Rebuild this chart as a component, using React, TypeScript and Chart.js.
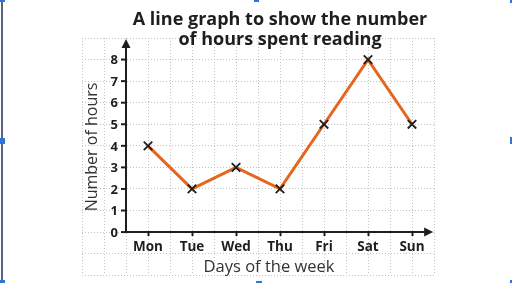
import React, { useEffect, useRef } from "react";
import { Chart, registerables } from "chart.js";

Chart.register(...registerables);

const DAYS = ["Mon", "Tue", "Wed", "Thu", "Fri", "Sat", "Sun"];
const HOURS = [4, 2, 3, 2, 5, 8, 5];
const Y_TICKS = [0, 1, 2, 3, 4, 5, 6, 7, 8];
const TITLE_LINES = ["A line graph to show the number", "of hours spent reading"];
const X_TITLE = "Days of the week";
const Y_TITLE = "Number of hours";

const FONT = "'Open Sans', 'DejaVu Sans', sans-serif";
const INK = "#1e1e1e";

const overlay = {
  id: "overlay",
  afterDraw(chart: any) {
    const { ctx } = chart;
    const sx = chart.scales.x;
    const sy = chart.scales.y;
    const ax = sx.getPixelForValue(0.5);
    const ay = sy.getPixelForValue(0);
    const topY = sy.getPixelForValue(8.95);
    const rightX = sx.getPixelForValue(7.48);
    ctx.save();
    ctx.strokeStyle = INK;
    ctx.fillStyle = INK;
    ctx.lineWidth = 2;
    ctx.beginPath();
    ctx.moveTo(ax, ay + 1);
    ctx.lineTo(ax, topY + 6);
    ctx.moveTo(ax - 1, ay);
    ctx.lineTo(rightX - 6, ay);
    ctx.stroke();
    // arrow heads
    ctx.beginPath();
    ctx.moveTo(ax, topY);
    ctx.lineTo(ax - 4.5, topY + 9);
    ctx.lineTo(ax + 4.5, topY + 9);
    ctx.closePath();
    ctx.fill();
    ctx.beginPath();
    ctx.moveTo(rightX, ay);
    ctx.lineTo(rightX - 9, ay - 4.5);
    ctx.lineTo(rightX - 9, ay + 4.5);
    ctx.closePath();
    ctx.fill();

    // y ticks and labels
    ctx.font = `bold 13px ${FONT}`;
    ctx.textAlign = "right";
    ctx.textBaseline = "middle";
    Y_TICKS.forEach((v) => {
      const py = sy.getPixelForValue(v);
      ctx.beginPath();
      ctx.moveTo(ax - 5, py);
      ctx.lineTo(ax, py);
      ctx.stroke();
      ctx.fillText(String(v), ax - 8, py + 1);
    });

    // title
    ctx.fillStyle = INK;
    ctx.textAlign = "center";
    ctx.textBaseline = "alphabetic";
    ctx.font = `bold 18px ${FONT}`;
    ctx.fillText(TITLE_LINES[0], 280, 25);
    ctx.fillText(TITLE_LINES[1], 280, 45);

    // axis titles
    ctx.fillStyle = "#333";
    ctx.font = `16.5px ${FONT}`;
    ctx.textBaseline = "middle";
    ctx.fillText(X_TITLE, 269, 267);
    ctx.translate(92, 147);
    ctx.rotate(-Math.PI / 2);
    ctx.font = `16px ${FONT}`;
    ctx.fillText(Y_TITLE, 0, 0);
    ctx.restore();
  },
};

export default function App() {
  const ref = useRef<HTMLCanvasElement | null>(null);
  useEffect(() => {
    if (!ref.current) return;
    const chart = new Chart(ref.current, {
      type: "line",
      data: {
        datasets: [
          {
            data: HOURS.map((h, i) => ({ x: i + 1, y: h })),
            borderColor: "#e4661f",
            borderWidth: 3,
            pointStyle: "crossRot",
            pointRadius: 6,
            pointBorderWidth: 1.8,
            pointBorderColor: INK,
            pointBackgroundColor: INK,
            tension: 0,
          },
        ],
      },
      plugins: [overlay],
      options: {
        animation: false,
        responsive: false,
        layout: { padding: { left: 82, right: 78, top: 38, bottom: 3 } },
        plugins: { legend: { display: false }, tooltip: { enabled: false }, title: { display: false } },
        scales: {
          x: {
            type: "linear",
            min: -0.5,
            max: 7.5,
            ticks: { display: false, stepSize: 0.5 },
            grid: { color: "#c4c4c4", lineWidth: 1, drawTicks: false },
            border: { display: false, dash: [1, 2] },
          },
          y: {
            type: "linear",
            min: -2,
            max: 9,
            ticks: { display: false, stepSize: 1 },
            grid: { color: "#c4c4c4", lineWidth: 1, drawTicks: false },
            border: { display: false, dash: [1, 2] },
          },
          xAxis: {
            type: "linear",
            position: { y: 0 } as any,
            min: -0.5,
            max: 7.5,
            afterBuildTicks: (axis: any) => {
              axis.ticks = DAYS.map((_, i) => ({ value: i + 1 }));
            },
            ticks: {
              callback: (_v: any, i: number) => DAYS[i],
              color: INK,
              font: { family: FONT, size: 13.5, weight: "bold" },
              padding: 3,
              maxRotation: 0,
              autoSkip: false,
            },
            grid: { drawOnChartArea: false, drawTicks: true, tickLength: 4, tickColor: INK, tickWidth: 2 },
            border: { display: false },
          },
        },
      } as any,
    });
    return () => chart.destroy();
  }, []);

  const handle = (l: number, t: number, w: number, h: number) => (
    <div style={{ position: "absolute", left: l, top: t, width: w, height: h, background: "#2f74d6" }} />
  );

  return (
    <div style={{ position: "fixed", left: 0, top: 0, width: 512, height: 283, background: "#fff", overflow: "hidden" }}>
      <canvas ref={ref} width={512} height={283} style={{ position: "absolute", left: 0, top: 0, width: 512, height: 283 }} />
      <div style={{ position: "absolute", left: 1, top: 0, width: 2, height: 283, background: "#56657f" }} />
      {handle(0, 0, 5, 2)}
      {handle(0, 138, 5, 6)}
      {handle(0, 280, 5, 3)}
      {handle(254, 0, 5, 2)}
      {handle(256, 281, 6, 2)}
      {handle(510, 0, 2, 3)}
      {handle(510, 137, 2, 7)}
      {handle(510, 280, 2, 3)}
    </div>
  );
}
